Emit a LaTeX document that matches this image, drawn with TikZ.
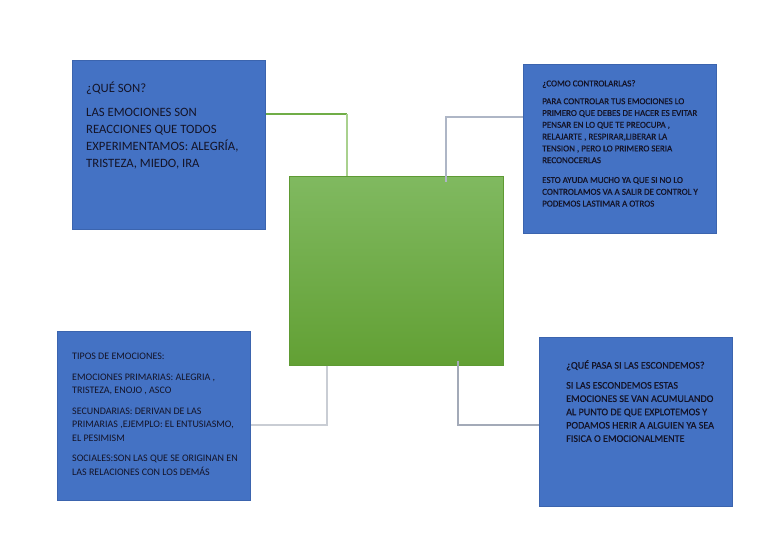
\documentclass[tikz,border=0pt]{standalone}
\usepackage{fontspec}
\setmainfont{Carlito}
\newfontfamily\semibf[FakeBold=0.6]{Carlito}
\usetikzlibrary{calc}
\definecolor{boxblue}{HTML}{4472C4}
\definecolor{boxedge}{HTML}{3B64AE}
\definecolor{gtop}{HTML}{80B960}
\definecolor{gbot}{HTML}{62A034}
\definecolor{gedge}{HTML}{5E9A33}
\definecolor{txtc}{HTML}{141428}
\definecolor{lgreen}{HTML}{70AD47}
\definecolor{lgreenl}{HTML}{A9D18E}
\definecolor{lgray}{HTML}{AEB6C6}
\definecolor{lgray2}{HTML}{C9CDD4}
\definecolor{lgray3}{HTML}{A3AAB8}
\tikzset{
  bluebox/.style={draw=boxedge, line width=0.8pt, fill=boxblue, minimum width=193pt, minimum height=169pt, inner sep=0pt, anchor=north west},
  centerbox/.style={draw=gedge, line width=0.5pt, top color=gtop, bottom color=gbot, minimum width=214pt, minimum height=189pt, inner sep=0pt, anchor=north west},
  txt/.style={text=txtc, inner sep=0pt, anchor=north west, align=left},
  conn/.style={line width=1.4pt}
}
\begin{document}
\begin{tikzpicture}[x=1pt,y=-1pt]
\useasboundingbox (0,0) rectangle (768,543);
\fill[white] (0,0) rectangle (768,543);
% boxes
\node[bluebox] (q1) at (72,60) {};
\node[bluebox] (q2) at (523,64) {};
\node[bluebox] (q3) at (57,331) {};
\node[bluebox] (q4) at (539,337) {};
\node[centerbox] (c) at (289,176) {};
% connectors
\draw[conn, lgreen] ($(q1.north east)+(0,54)$) -- ($(q1.north east)+(81,54)$) coordinate (k1);
\draw[conn, lgreenl] (k1) -- (k1 |- c.north);
\draw[conn, lgray] ($(q2.north west)+(0,53)$) -| ($(c.north west)+(157,6)$);
\draw[conn, lgray2] ($(c.south west)+(38,0)$) |- ($(q3.north east)+(0,94)$);
\draw[conn, lgray3] ($(c.south west)+(169,-5)$) |- ($(q4.north west)+(0,88)$);
% texts
\node[txt, font=\fontsize{12.7}{17}\selectfont] (t1) at ($(q1.north west)+(14,22)$) {%
¿QUÉ SON?\\[7pt]
LAS EMOCIONES SON\\
REACCIONES QUE TODOS\\
EXPERIMENTAMOS: ALEGRÍA,\\
TRISTEZA, MIEDO, IRA};
\node[txt, font=\semibf\fontsize{9}{11.8}\selectfont] (t2) at ($(q2.north west)+(19,16)$) {%
¿COMO CONTROLARLAS?\\[6pt]
PARA CONTROLAR TUS EMOCIONES LO\\
PRIMERO QUE DEBES DE HACER ES EVITAR\\
PENSAR EN LO QUE TE PREOCUPA ,\\
RELAJARTE , RESPIRAR,LIBERAR LA\\
TENSION , PERO LO PRIMERO SERIA\\
RECONOCERLAS\\[8pt]
ESTO AYUDA MUCHO YA QUE SI NO LO\\
CONTROLAMOS VA A SALIR DE CONTROL Y\\
PODEMOS LASTIMAR A OTROS};
\node[txt, font=\fontsize{10}{13.5}\selectfont] (t3) at ($(q3.north west)+(15,22)$) {%
TIPOS DE EMOCIONES:\\[7pt]
EMOCIONES PRIMARIAS: ALEGRIA ,\\
TRISTEZA, ENOJO , ASCO\\[7pt]
SECUNDARIAS: DERIVAN DE LAS\\
PRIMARIAS ,EJEMPLO: EL ENTUSIASMO,\\
EL PESIMISM\\[7pt]
SOCIALES:SON LAS QUE SE ORIGINAN EN\\
LAS RELACIONES CON LOS DEMÁS};
\node[txt, font=\semibf\fontsize{10.1}{13.3}\selectfont] (t4) at ($(q4.north west)+(27,23)$) {%
¿QUÉ PASA SI LAS ESCONDEMOS?\\[6.7pt]
SI LAS ESCONDEMOS ESTAS\\
EMOCIONES SE VAN ACUMULANDO\\
AL PUNTO DE QUE EXPLOTEMOS Y\\
PODAMOS HERIR A ALGUIEN YA SEA\\
FISICA O EMOCIONALMENTE};
\end{tikzpicture}
\end{document}
